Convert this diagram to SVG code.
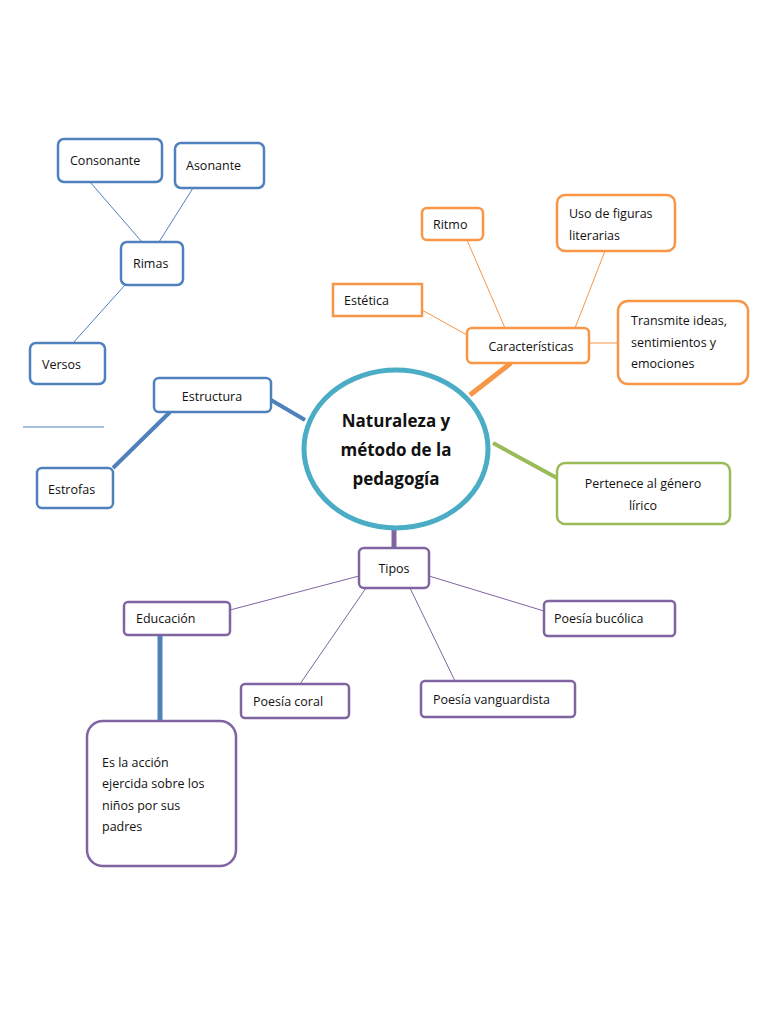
<svg xmlns="http://www.w3.org/2000/svg" width="768" height="1024" viewBox="0 0 768 1024">
<style>
text{font-family:"Open Sans","Liberation Sans",sans-serif;font-size:12.5px;fill:#111}
.b{fill:#fff;stroke:#4F81BD;stroke-width:2.5}
.o{fill:#fff;stroke:#F79646;stroke-width:2.5}
.g{fill:#fff;stroke:#9BBB59;stroke-width:2.5}
.p{fill:#fff;stroke:#8064A2;stroke-width:2.5}
</style>
<rect width="768" height="1024" fill="#fff"/>
<g id="connectors" fill="none">
<g stroke="#4F81BD" stroke-width="1">
<line x1="90" y1="182" x2="142" y2="242"/><line x1="193" y1="188" x2="159" y2="242"/><line x1="125" y1="285" x2="73" y2="343"/><line x1="23" y1="427" x2="104" y2="427"/>
</g>
<g stroke="#4F81BD" stroke-width="4"><line x1="170" y1="412" x2="113" y2="468"/><line x1="271" y1="400" x2="305" y2="420"/><line x1="160" y1="635" x2="160" y2="721" stroke-width="5"/></g>
<g stroke="#F79646" stroke-width="1"><line x1="467" y1="240" x2="505" y2="328"/><line x1="605" y1="251" x2="575" y2="328"/><line x1="422" y1="310" x2="467" y2="335"/><line x1="589" y1="343" x2="618" y2="343"/></g>
<line x1="511" y1="363" x2="470" y2="395" stroke="#F79646" stroke-width="5"/>
<line x1="493" y1="443" x2="557" y2="478" stroke="#9BBB59" stroke-width="4"/>
<line x1="394" y1="527" x2="394" y2="548" stroke="#8064A2" stroke-width="5"/>
<g stroke="#8064A2" stroke-width="1"><line x1="359" y1="576" x2="230" y2="610"/><line x1="366" y1="588" x2="300" y2="684"/><line x1="410" y1="588" x2="455" y2="681"/><line x1="429" y1="576" x2="544" y2="611"/></g>
</g>
<g id="consonante"><rect class="b" x="58" y="139" width="104" height="43" rx="6"/><text x="70" y="165">Consonante</text></g>
<g id="asonante"><rect class="b" x="175" y="143" width="89" height="45" rx="6"/><text x="186" y="170">Asonante</text></g>
<g id="rimas"><rect class="b" x="121" y="242" width="62" height="43" rx="6"/><text x="133" y="268">Rimas</text></g>
<g id="versos"><rect class="b" x="30" y="343" width="75" height="41" rx="6"/><text x="42" y="369">Versos</text></g>
<g id="estructura"><rect class="b" x="154" y="378" width="117" height="34" rx="5"/><text x="212" y="401" text-anchor="middle">Estructura</text></g>
<g id="estrofas"><rect class="b" x="37" y="468" width="76" height="40" rx="5"/><text x="48" y="494">Estrofas</text></g>
<g id="center"><ellipse cx="396" cy="449" rx="92" ry="79" fill="#fff" stroke="#4BACC6" stroke-width="5"/>
<text x="396" y="427" text-anchor="middle" style="font-size:17px;font-weight:bold">Naturaleza y</text>
<text x="396" y="456" text-anchor="middle" style="font-size:17px;font-weight:bold">método de la</text>
<text x="396" y="485" text-anchor="middle" style="font-size:17px;font-weight:bold">pedagogía</text></g>
<g id="ritmo"><rect class="o" x="422" y="208" width="61" height="32" rx="5"/><text x="433" y="229">Ritmo</text></g>
<g id="uso"><rect class="o" x="557" y="195" width="118" height="56" rx="8"/><text x="569" y="218">Uso de figuras</text><text x="569" y="240">literarias</text></g>
<g id="estetica"><rect class="o" x="333" y="284" width="89" height="32" rx="0"/><text x="344" y="305">Estética</text></g>
<g id="caracteristicas"><rect class="o" x="467" y="328" width="122" height="35" rx="5"/><text x="531" y="351" text-anchor="middle">Características</text></g>
<g id="transmite"><rect class="o" x="618" y="301" width="130" height="83" rx="10"/><text x="631" y="325">Transmite ideas,</text><text x="631" y="347">sentimientos y</text><text x="631" y="368">emociones</text></g>
<g id="pertenece"><rect class="g" x="557" y="463" width="173" height="61" rx="8"/><text x="643" y="488" text-anchor="middle">Pertenece al género</text><text x="643" y="510" text-anchor="middle">lírico</text></g>
<g id="tipos"><rect class="p" x="359" y="548" width="70" height="40" rx="5"/><text x="394" y="573" text-anchor="middle">Tipos</text></g>
<g id="educacion"><rect class="p" x="124" y="602" width="106" height="33" rx="4"/><text x="136" y="623">Educación</text></g>
<g id="bucolica"><rect class="p" x="544" y="601" width="131" height="35" rx="4"/><text x="554" y="623">Poesía bucólica</text></g>
<g id="coral"><rect class="p" x="241" y="684" width="108" height="34" rx="4"/><text x="253" y="706">Poesía coral</text></g>
<g id="vanguardista"><rect class="p" x="421" y="681" width="154" height="36" rx="4"/><text x="433" y="704">Poesía vanguardista</text></g>
<g id="accion"><rect class="p" x="87" y="721" width="149" height="145" rx="16"/><text x="102" y="767">Es la acción</text><text x="102" y="788">ejercida sobre los</text><text x="102" y="810">niños por sus</text><text x="102" y="831">padres</text></g>
</svg>
